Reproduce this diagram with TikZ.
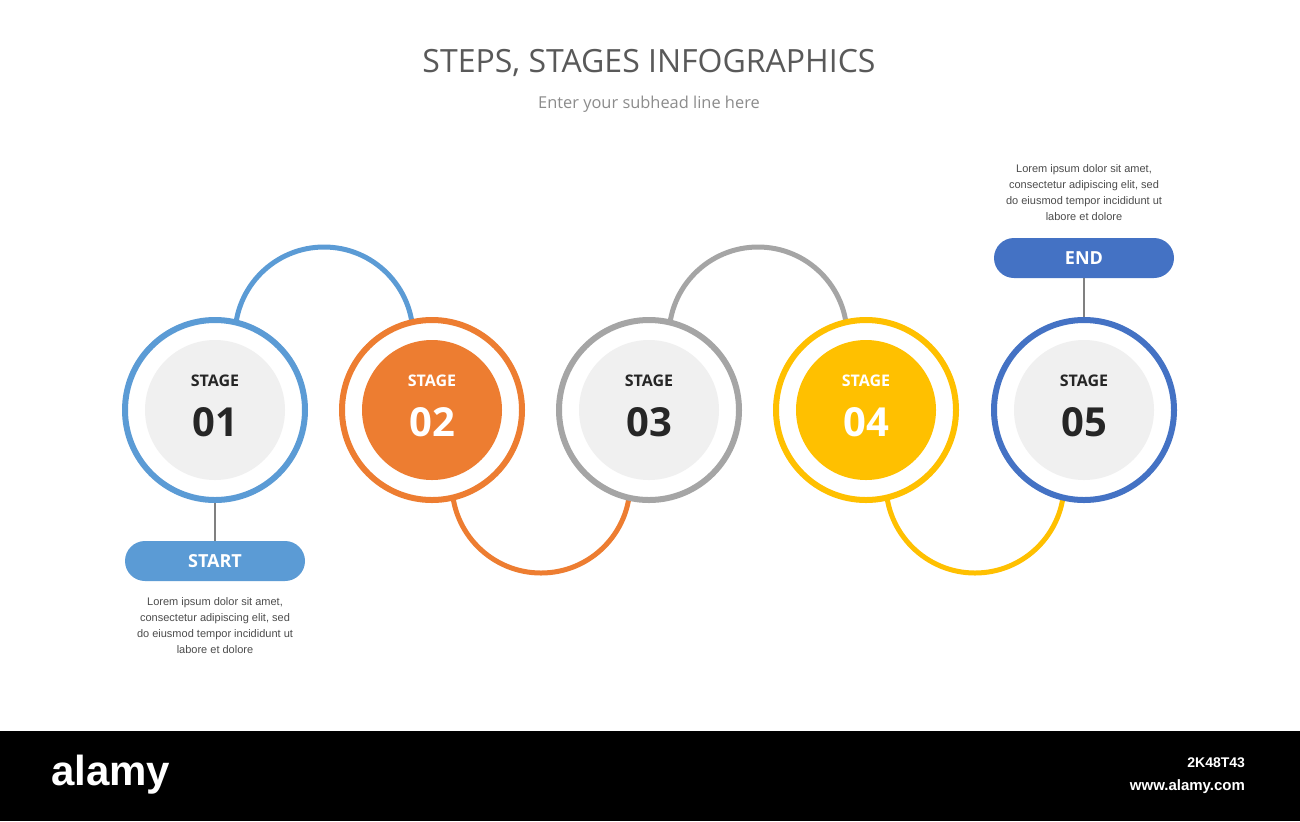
\documentclass[tikz,border=0pt]{standalone}
\usepackage{fontspec}
\setmainfont{Open Sans}
\newfontfamily\arialf{Liberation Sans}
\definecolor{cblue}{HTML}{5B9BD5}
\definecolor{corange}{HTML}{ED7D31}
\definecolor{cgray}{HTML}{A5A5A5}
\definecolor{cyellow}{HTML}{FFC000}
\definecolor{cdblue}{HTML}{4472C4}
\definecolor{cinner}{HTML}{F0F0F0}
\definecolor{ctext}{HTML}{262626}
\begin{document}
\begin{tikzpicture}[x=0.5pt,y=-0.5pt,
  ring/.style={draw=#1,line width=3pt,fill=white,circle,inner sep=0pt},
  core/.style={fill=#1,circle,inner sep=0pt},
  arcline/.style={draw=#1,line width=2.5pt},
  pill/.style={fill=#1,rounded corners=10pt,minimum width=90pt,minimum height=20pt,text=white,font=\bfseries\fontsize{9}{10}\selectfont},
  body/.style={font=\arialf\fontsize{5.5}{8}\selectfont,text=black!70,align=center},
  stagelbl/.style={font=\bfseries\fontsize{8}{9}\selectfont},
  numlbl/.style={font=\bfseries\fontsize{20}{22}\selectfont}]
\useasboundingbox (0,0) rectangle (1300,821);
\fill[white] (0,0) rectangle (1300,731);
\fill[black] (0,731) rectangle (1300,821);
% arcs
\draw[arcline=cblue] (235,336) arc[start angle=180,end angle=360,radius=89];
\draw[arcline=corange] (452,484) arc[start angle=180,end angle=0,radius=89];
\draw[arcline=cgray] (669,336) arc[start angle=180,end angle=360,radius=89];
\draw[arcline=cyellow] (886,484) arc[start angle=180,end angle=0,radius=89];
% circles
\node[ring=cblue,minimum size=90pt] (r1) at (215,410) {};
\node[ring=corange,minimum size=90pt] (r2) at (432,410) {};
\node[ring=cgray,minimum size=90pt] (r3) at (649,410) {};
\node[ring=cyellow,minimum size=90pt] (r4) at (866,410) {};
\node[ring=cdblue,minimum size=90pt] (r5) at (1084,410) {};
\node[core=cinner,minimum size=70pt] (c1) at (215,410) {};
\node[core=corange,minimum size=70pt] (c2) at (432,410) {};
\node[core=cinner,minimum size=70pt] (c3) at (649,410) {};
\node[core=cyellow,minimum size=70pt] (c4) at (866,410) {};
\node[core=cinner,minimum size=70pt] (c5) at (1084,410) {};
\foreach \x/\n/\c in {215/01/ctext,432/02/white,649/03/ctext,866/04/white,1084/05/ctext}{
  \node[stagelbl,text=\c] (s\n) at (\x,381) {STAGE};
  \node[numlbl,text=\c] (n\n) at (\x,422) {\n};
}
% start / end
\node[pill=cblue] (start) at (215,561) {START};
\node[pill=cdblue] (end) at (1084,258) {END};
\draw[gray,line width=0.6pt] (r1.south) -- (start.north);
\draw[gray,line width=0.6pt] (end.south) -- (r5.north);
\node[body] (t1) at (215,626) {Lorem ipsum dolor sit amet,\\consectetur adipiscing elit, sed\\do eiusmod tempor incididunt ut\\labore et dolore};
\node[body] (t2) at (1084,193) {Lorem ipsum dolor sit amet,\\consectetur adipiscing elit, sed\\do eiusmod tempor incididunt ut\\labore et dolore};
% titles
\node[font=\fontsize{16}{18}\selectfont,text=black!65] (title) at (649,63) {STEPS, STAGES INFOGRAPHICS};
\node[font=\fontsize{8.2}{10}\selectfont,text=black!45] (sub) at (649,104) {Enter your subhead line here};
% bar
\node[font=\arialf\bfseries\fontsize{21}{22}\selectfont,text=white,anchor=west] (al) at (44,775) {alamy};
\node[font=\arialf\bfseries\fontsize{7}{8}\selectfont,text=white,anchor=east] (id) at (1252,763) {2K48T43};
\node[font=\arialf\bfseries\fontsize{7.5}{8}\selectfont,text=white,anchor=east] (www) at (1252,787) {www.alamy.com};
\end{tikzpicture}
\end{document}
